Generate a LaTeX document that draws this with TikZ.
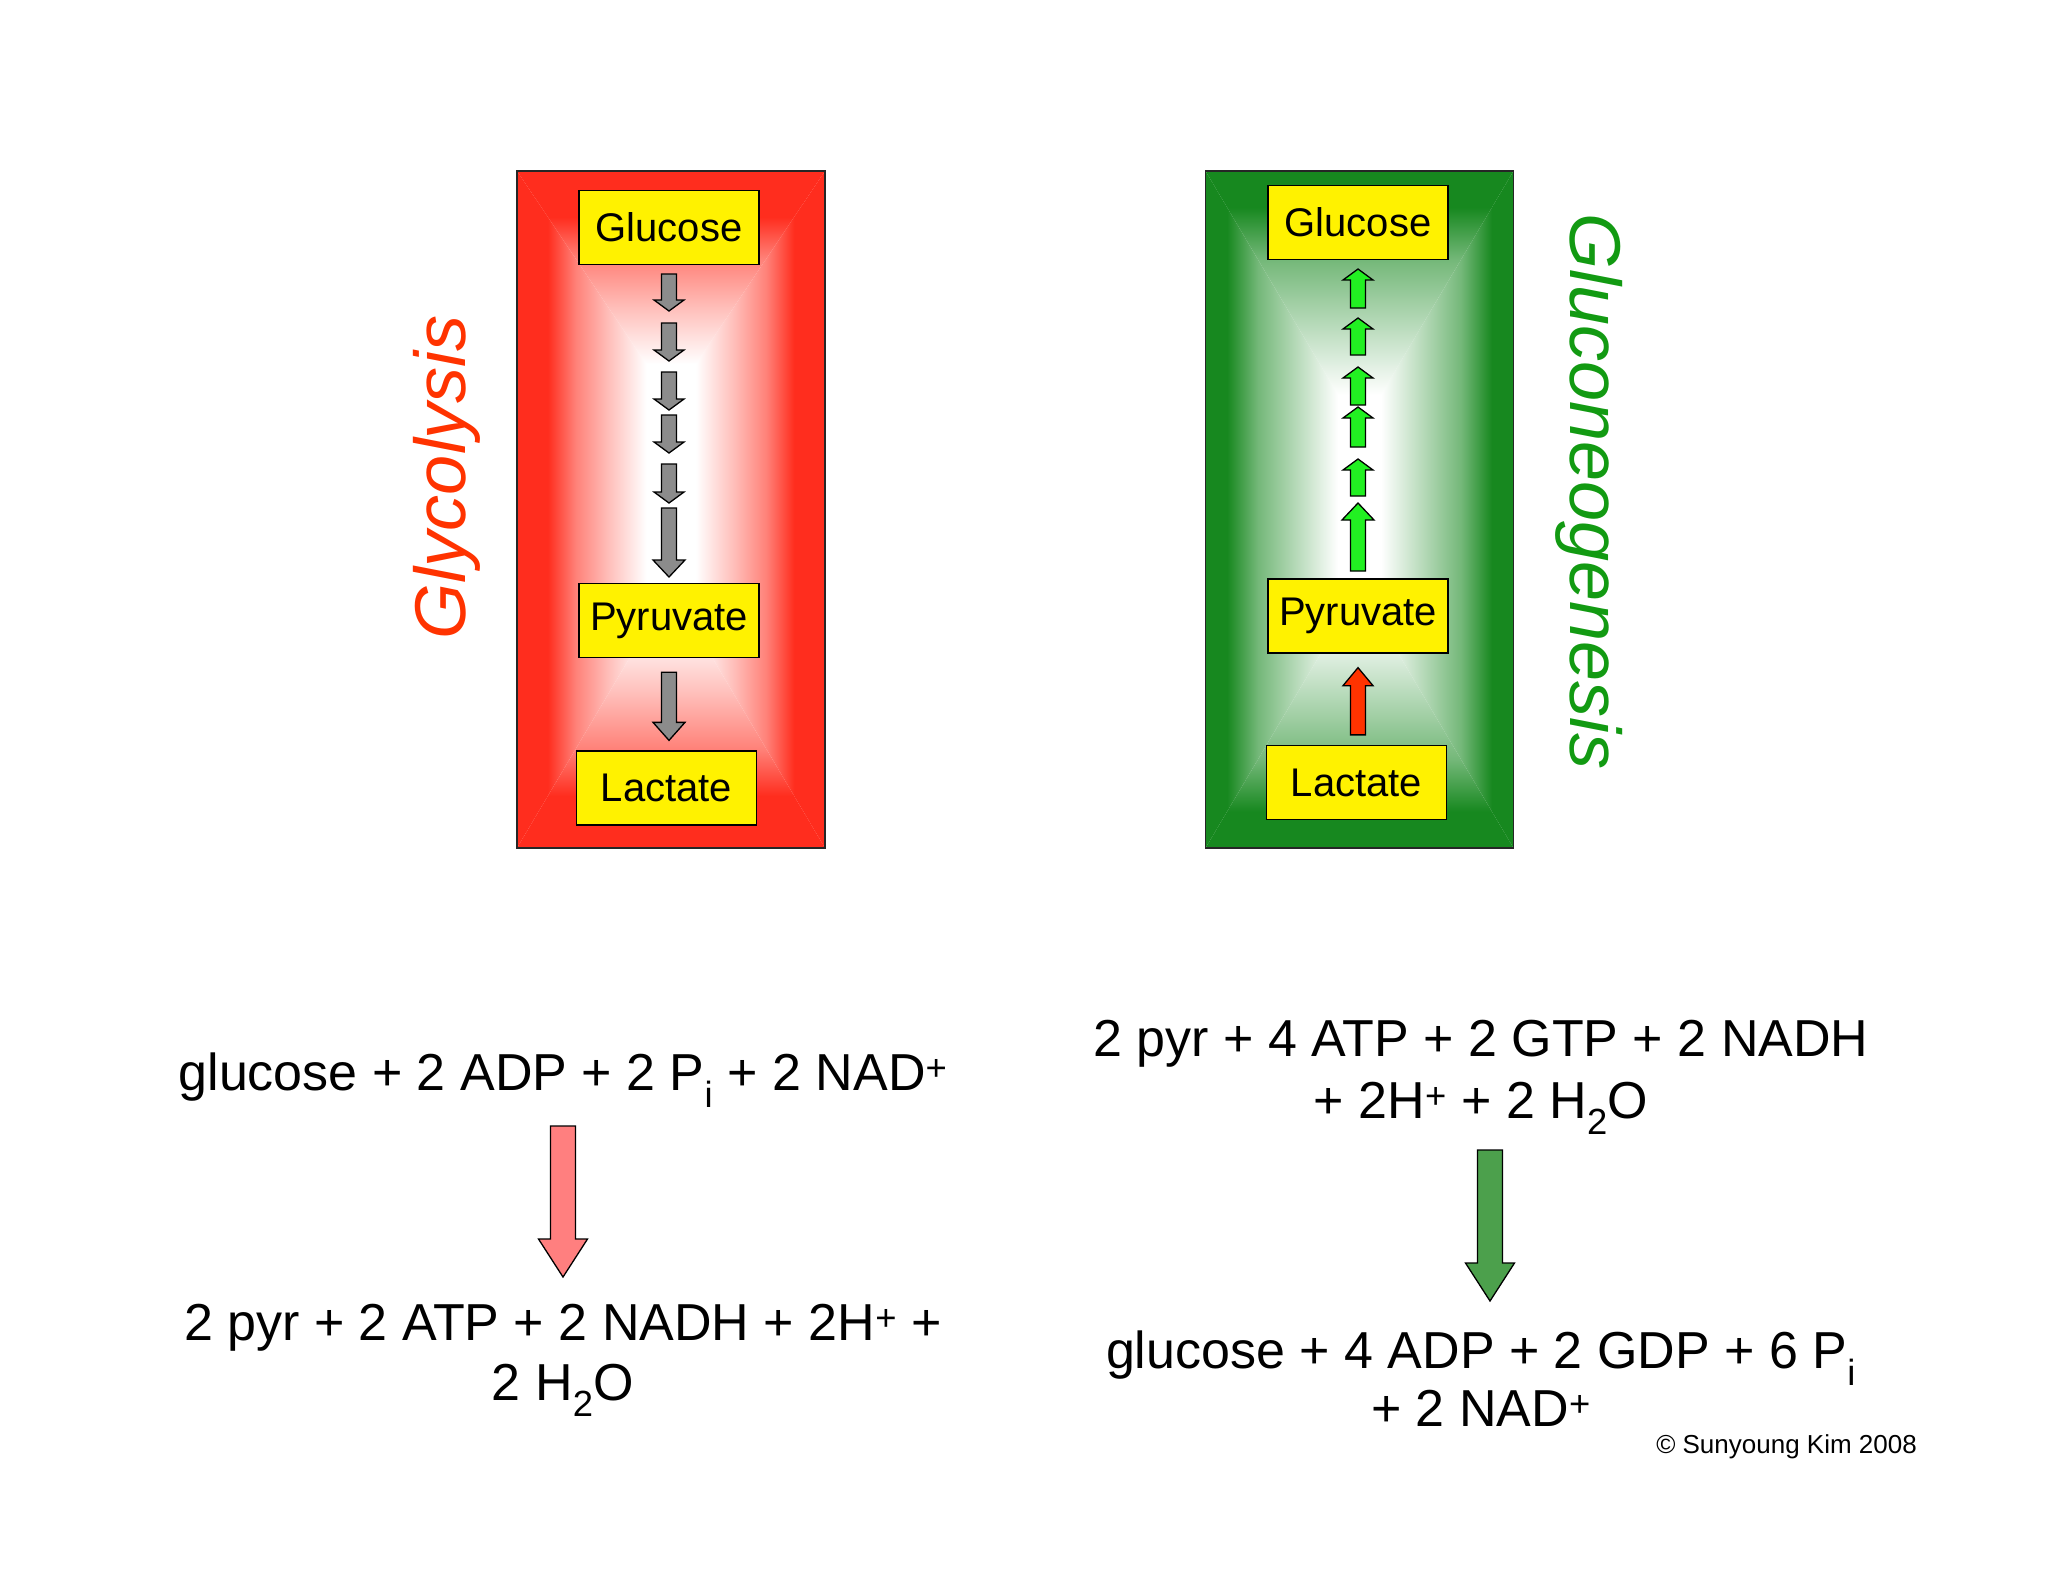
\documentclass[tikz,border=0pt]{standalone}
\usepackage{fontspec}
\setmainfont{Liberation Sans}
\usetikzlibrary{positioning, calc, backgrounds}
\definecolor{glyred}{HTML}{FF3300}
\definecolor{neogreen}{HTML}{129A12}
\definecolor{rededge}{HTML}{FF2D1E}
\definecolor{greenedge}{HTML}{17881F}
\definecolor{stepgray}{HTML}{8C8C8C}
\definecolor{stepgreen}{HTML}{22F022}
\definecolor{stepred}{HTML}{FF3300}
\definecolor{netred}{HTML}{FF7F7F}
\definecolor{netgreen}{HTML}{4CA04C}

% glow shadings, rim colour at the low end (A) or at the high end (B)
\newcommand{\mkglowA}[6]{%
  \pgfdeclarehorizontalshading{#1HA}{100bp}{color(0bp)=(#2); color(#3bp)=(#2); color(#4bp)=(#2!60!white); color(#5bp)=(#2!30!white); color(#6bp)=(white); color(100bp)=(white)}%
  \pgfdeclareverticalshading{#1VA}{100bp}{color(0bp)=(#2); color(#3bp)=(#2); color(#4bp)=(#2!60!white); color(#5bp)=(#2!30!white); color(#6bp)=(white); color(100bp)=(white)}}
\newcommand{\mkglowB}[6]{%
  \pgfdeclarehorizontalshading{#1HB}{100bp}{color(0bp)=(white); color(#3bp)=(white); color(#4bp)=(#2!30!white); color(#5bp)=(#2!60!white); color(#6bp)=(#2); color(100bp)=(#2)}%
  \pgfdeclareverticalshading{#1VB}{100bp}{color(0bp)=(white); color(#3bp)=(white); color(#4bp)=(#2!30!white); color(#5bp)=(#2!60!white); color(#6bp)=(#2); color(100bp)=(#2)}}
\mkglowA{glyglow}{rededge}{35}{44}{55}{67}
\mkglowB{glyglow}{rededge}{33}{45}{56}{65}
\mkglowA{neoglow}{greenedge}{32}{42}{55}{68}
\mkglowB{neoglow}{greenedge}{32}{45}{58}{68}

% panel node, shading prefix, drop of the glow's upper end, rise of its lower end
\newcommand{\panelglow}[4]{%
  \coordinate (#1-a) at ($(#1.north)+(0,#3)$);
  \coordinate (#1-b) at ($(#1.south)+(0,-#4)$);
  \shade[shading=#2HA] (#1.north west) -- (#1-a) -- (#1-b) -- (#1.south west) -- cycle;
  \shade[shading=#2HB] (#1.north east) -- (#1-a) -- (#1-b) -- (#1.south east) -- cycle;
  \shade[shading=#2VB] (#1.north west) -- (#1.north east) -- (#1-a) -- cycle;
  \shade[shading=#2VA] (#1.south west) -- (#1.south east) -- (#1-b) -- cycle;
}

% style, from, to, shaft half width, head half width, head length
\newcommand{\blockarrow}[6]{%
  \draw[#1] let \p1=(#2), \p2=(#3), \p3=($(#3)!#6!(#2)$) in
    (\x1-#4,\y1) -- (\x1-#4,\y3) -- (\x1-#5,\y3) -- (\x1,\y2) -- (\x1+#5,\y3)
    -- (\x1+#4,\y3) -- (\x1+#4,\y1) -- cycle;
}

\begin{document}
\begin{tikzpicture}[
  x=1pt, y=-1pt,
  panel/.style={draw=black!85, line width=1.3pt, minimum width=308pt,
                minimum height=677pt, inner sep=0pt, outer sep=0pt},
  stage/.style={draw=black, line width=1.3pt, fill=yellow, minimum width=180pt,
                minimum height=74pt, inner sep=0pt, font=\fontsize{40}{48}\selectfont},
  pathlabel/.style={inner sep=0pt, font=\fontsize{72}{80}\selectfont\itshape},
  eqn/.style={anchor=base, inner sep=0pt, font=\fontsize{52}{60}\selectfont},
  steparr/.style={draw=black, line width=1.3pt, line join=miter},
]
  \useasboundingbox (0,0) rectangle (2048,1582);

  % Panels
  \node[panel] (glypanel) at (671,509.5) {};
  \node[panel] (neopanel) at (1359.5,509.5) {};
  \begin{scope}[on background layer]
    \fill[white] (0,0) rectangle (2048,1582);
    \panelglow{glypanel}{glyglow}{230}{260}
    \panelglow{neopanel}{neoglow}{260}{260}
  \end{scope}

  % Glycolysis side
  \node[stage] (glyglc) at (669,227.5) {Glucose};
  \node[stage] (glypyr) at (669,620.5) {Pyruvate};
  \node[stage] (glylac) at (666.5,788) {Lactate};
  \node[pathlabel, text=glyred, rotate=90] (glylabel) at (447,477) {Glycolysis};

  % Gluconeogenesis side
  \node[stage] (neoglc) at (1358,222.5) {Glucose};
  \node[stage] (neopyr) at (1358,616) {Pyruvate};
  \node[stage] (neolac) at (1356.5,782.5) {Lactate};
  \node[pathlabel, text=neogreen, rotate=-90] (neolabel) at (1589,491.5) {Gluconeogenesis};

  % Arrows - glucose down to pyruvate
  \foreach \ya/\yb in {274/311, 323/361, 372/410, 415/453, 464/503}
    {\blockarrow{steparr, fill=stepgray}{669,\ya}{669,\yb}{7.5pt}{15pt}{11pt}}
  \blockarrow{steparr, fill=stepgray}{669,508}{669,577}{7.5pt}{16pt}{17pt}
  \blockarrow{steparr, fill=stepgray}{$(glypyr.south)+(0,14)$}{$(glylac.north)+(2.5,-10)$}{7.5pt}{16pt}{18pt}

  % Arrows - lactate up to glucose
  \blockarrow{steparr, fill=stepred}{$(neolac.north)+(1.5,-10)$}{$(neopyr.south)+(0,14)$}{7.5pt}{15pt}{18pt}
  \blockarrow{steparr, fill=stepgreen}{1358,571}{1358,503}{7.5pt}{16pt}{17pt}
  \foreach \ya/\yb in {496/459, 447/407, 405/367, 355/318, 308/269}
    {\blockarrow{steparr, fill=stepgreen}{1358,\ya}{1358,\yb}{7.5pt}{15pt}{11pt}}

  % Net equations
  \node[eqn] (glyin) at (563,1090) {glucose + 2 ADP + 2 P\textsubscript{i} + 2 NAD\textsuperscript{+}};
  \node[eqn] (glyout) at (563,1340) {2 pyr + 2 ATP + 2 NADH + 2H\textsuperscript{+} +};
  \node[eqn, below=60pt of glyout.base, anchor=base] (glyout2) {2 H\textsubscript{2}O};
  \blockarrow{steparr, fill=netred}{$(glyin.base)+(0,36)$}{$(glyout.base)+(0,-63)$}{12.5pt}{24.5pt}{38pt}

  \node[eqn] (neoin) at (1481,1056) {2 pyr + 4 ATP + 2 GTP + 2 NADH};
  \node[eqn, below=62pt of neoin.base, anchor=base] (neoin2) {+ 2H\textsuperscript{+} + 2 H\textsubscript{2}O};
  \node[eqn] (neoout) at (1481,1368) {glucose + 4 ADP + 2 GDP + 6 P\textsubscript{i}};
  \node[eqn, below=58pt of neoout.base, anchor=base] (neoout2) {+ 2 NAD\textsuperscript{+}};
  \blockarrow{steparr, fill=netgreen}{$(neoin2.base)+(9,32)$}{$(neoout.base)+(9,-67)$}{12.5pt}{24.5pt}{38pt}

  \node[anchor=base east, inner sep=0pt, font=\fontsize{26}{30}\selectfont] (credit) at (1917,1453) {\textcopyright{} Sunyoung Kim 2008};
\end{tikzpicture}
\end{document}
